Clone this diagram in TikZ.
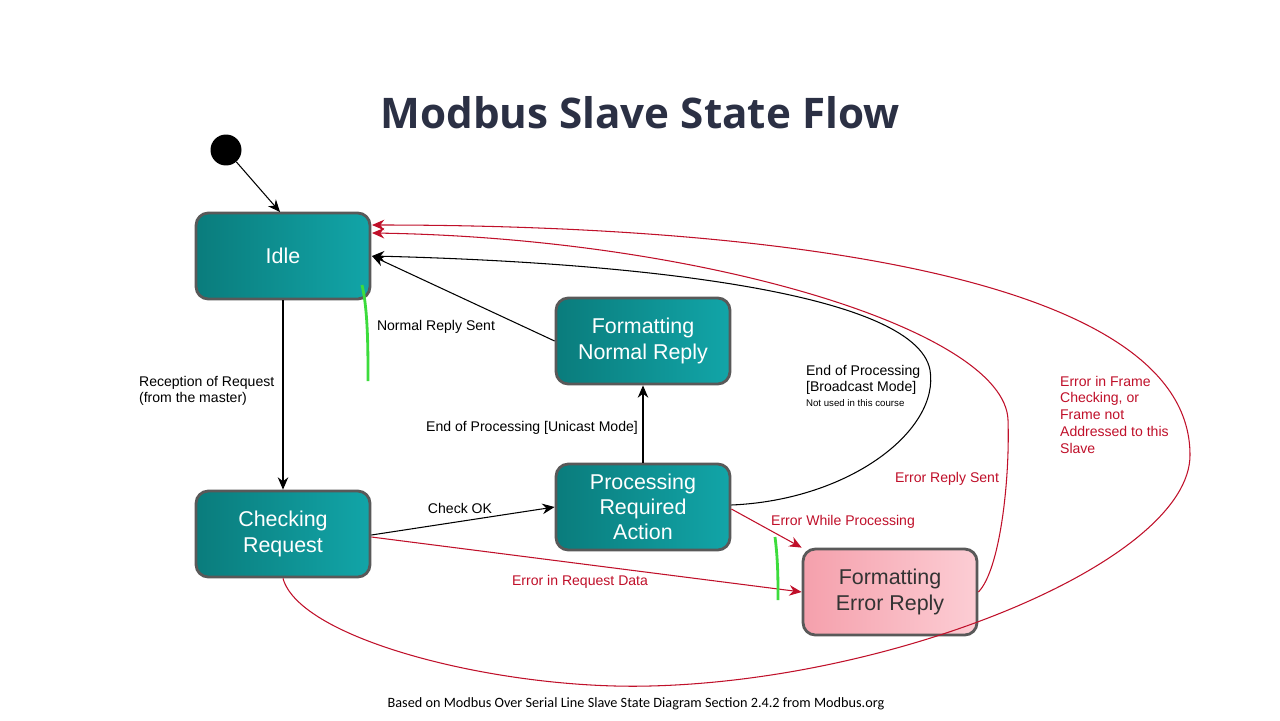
\documentclass[tikz,border=0pt]{standalone}
\usepackage{fontspec}
\setmainfont{Liberation Sans}
\newfontfamily\titlefont{Open Sans}
\newfontfamily\footfont{Carlito}
\usetikzlibrary{arrows.meta}
\definecolor{tealA}{HTML}{0A7C7C}
\definecolor{tealB}{HTML}{12A5A8}
\definecolor{errred}{HTML}{C0102A}
\definecolor{titlec}{HTML}{2B3044}
\definecolor{pinkA}{RGB}{245,160,172}
\definecolor{pinkB}{RGB}{252,205,212}
\definecolor{markgreen}{RGB}{60,220,60}
\tikzset{
 state/.style={draw=gray!70!black,line width=1.6pt,rounded corners=7pt,minimum width=3.48cm,minimum height=1.72cm,align=center,text=white,font=\fontsize{12.2}{14.3}\selectfont,left color=tealA,right color=tealB,inner sep=1pt},
 errstate/.style={state,left color=pinkA,right color=pinkB,text=black!80},
 blk/.style={-{Stealth[length=7pt,width=6pt]},black,line width=0.6pt},
 redarrow/.style={-{Stealth[length=7pt,width=6pt]},errred,line width=0.6pt},
 lbl/.style={font=\fontsize{8}{9.5}\selectfont,align=left,inner sep=1pt},
 rlbl/.style={lbl,text=errred},
 greenmark/.style={markgreen,line width=1.6pt},
}
\begin{document}
\begin{tikzpicture}[x=0.02cm,y=-0.02cm]
\fill[white] (0,0) rectangle (1280,720);
\node[font=\titlefont\bfseries\fontsize{24}{28}\selectfont,text=titlec] (title) at (640,113) {Modbus Slave State Flow};
\node[circle,fill=black,minimum size=0.62cm,inner sep=0] (start) at (226,150) {};
\node[state] (idle) at (283,256) {Idle};
\node[state] (check) at (283,534) {Checking\\Request};
\node[state] (fnr) at (643,341) {Formatting\\Normal Reply};
\node[state] (proc) at (643,507) {Processing\\Required\\Action};
\node[errstate] (fer) at (890,592) {Formatting\\Error Reply};
\coordinate (idleA) at (372,225);
\coordinate (idleB) at (372,233);
\coordinate (idleC) at (372,256);
\coordinate (idleT) at (280,212);
\draw[blk] (start) -- (idleT);
\draw[blk] (idle.south) -- (check.north);
\draw[blk] (check.east) ++(0,1) -- (proc.west |- 0,507);
\draw[blk] (proc.north) -- (fnr.south);
\draw[blk] (fnr.west) -- (idleC);
\draw[blk] (proc.east) ++(0,-2) .. controls (850,500) and (940,430) .. (930,370) .. controls (915,290) and (620,262) .. (idleC);
\draw[redarrow] (proc.east) ++(0,2) -- (fer.north west);
\draw[redarrow] (check.east) ++(0,3) -- (fer.west);
\draw[redarrow] (fer.east) .. controls (1000,570) and (1010,480) .. (1008,420) .. controls (1005,330) and (700,238) .. (idleB);
\draw[redarrow] (check.south) .. controls (300,640) and (500,690) .. (650,686) .. controls (900,680) and (1190,560) .. (1190,455) .. controls (1190,260) and (700,225) .. (idleA);
\draw[greenmark] (362,285) .. controls (368,310) and (368,350) .. (368,381);
\draw[greenmark] (775,537) .. controls (778,560) and (778,580) .. (778,600);
\node[lbl,anchor=north west] (l1) at (137,374) {Reception of Request\\(from the master)};
\node[lbl] (l2) at (460,508) {Check OK};
\node[lbl] (l3) at (532,428) {End of Processing [Unicast Mode]};
\node[lbl] (l4) at (436,327) {Normal Reply Sent};
\node[lbl,anchor=north west] (l5) at (804,363) {End of Processing\\{}[Broadcast Mode]};
\node[lbl,anchor=north west,font=\fontsize{5.5}{6}\selectfont] (l6) at (804,397) {Not used in this course};
\node[rlbl] (l7) at (843,522) {Error While Processing};
\node[rlbl] (l8) at (580,582) {Error in Request Data};
\node[rlbl] (l9) at (947,479) {Error Reply Sent};
\node[rlbl,anchor=north west] (l10) at (1058,374) {Error in Frame\\Checking, or\\Frame not\\Addressed to this\\Slave};
\node[font=\footfont\fontsize{8.1}{9}\selectfont] (foot) at (636,704) {Based on Modbus Over Serial Line Slave State Diagram Section 2.4.2 from Modbus.org};
\end{tikzpicture}
\end{document}
